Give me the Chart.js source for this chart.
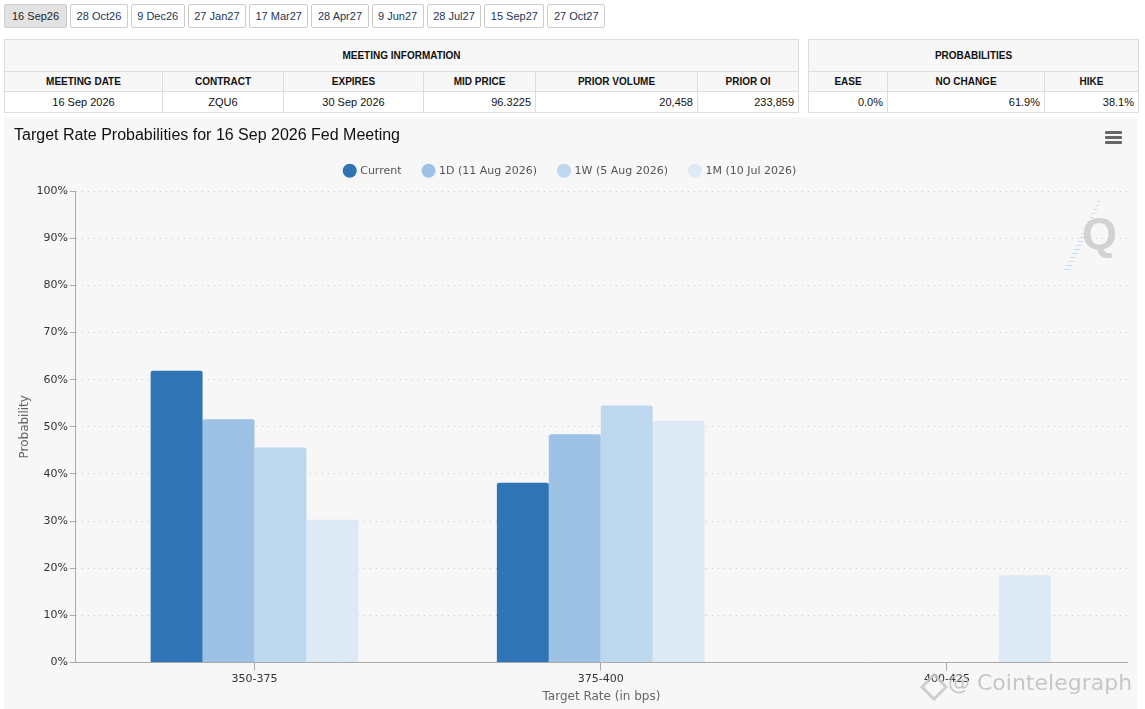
<!DOCTYPE html>
<html>
<head>
<meta charset="utf-8">
<script src="https://cdn.jsdelivr.net/npm/chart.js@4/dist/chart.umd.min.js"></script>
<style>
body{margin:0;background:#fff;font-family:"Liberation Sans",Arial,sans-serif;width:1145px;height:709px;overflow:hidden;position:relative}
.tabs{position:absolute;left:4px;top:4px;display:flex}
.tabs span{display:block;height:22px;line-height:22px;padding:0 5.5px;margin-right:3px;border:1px solid #ccc;border-radius:2px;font-size:11px;color:#1d3557;background:#fff}
.tabs span.on{background:#e2e2e2;color:#222;padding:0 7px}
table{position:absolute;top:39px;border-collapse:collapse;table-layout:fixed;font-size:11px;color:#111}
table td{border:1px solid #ddd;height:20px;padding:0 4px;overflow:hidden;white-space:nowrap}
table tr.h td{height:31px;background:#f7f7f7;font-weight:bold;text-align:center;font-size:10px}
table tr.s td{background:#f7f7f7;font-weight:bold;text-align:center;height:19px;font-size:10px}
table td.r{text-align:right}
table td.c{text-align:center}
#panel{position:absolute;left:4px;top:117px;width:1133px;height:592px;background:#f7f7f7}
#menu{position:absolute;left:1105px;top:131px;width:17px}
#menu div{height:3px;background:#666;margin-bottom:2px;border-radius:1px}
#qmark{position:absolute;left:1082px;top:208px;font:bold 45px "Liberation Sans",Arial;color:#d2d2d2}
#qstripe{position:absolute;left:1064px;top:198px;width:38px;height:72px;background:repeating-linear-gradient(0deg,rgba(150,195,235,0.5) 0 1px,transparent 1px 4px);clip-path:polygon(92% 0,100% 0,18% 100%,0 100%)}
#wm{position:absolute;left:948px;top:670px;font:22px "DejaVu Sans",sans-serif;color:rgba(190,190,190,0.85)}
#wmlogo{position:absolute;left:924px;top:677px;width:14px;height:14px;border:3px solid rgba(200,200,200,0.85);transform:rotate(45deg)}
</style>
</head>
<body>
<div class="tabs">
<span class="on">16 Sep26</span><span>28 Oct26</span><span>9 Dec26</span><span>27 Jan27</span><span>17 Mar27</span><span>28 Apr27</span><span>9 Jun27</span><span>28 Jul27</span><span>15 Sep27</span><span>27 Oct27</span>
</div>
<table style="left:4px;width:794px">
<colgroup><col style="width:158px"><col style="width:121px"><col style="width:140px"><col style="width:112px"><col style="width:162px"><col style="width:101px"></colgroup>
<tr class="h"><td colspan="6">MEETING INFORMATION</td></tr>
<tr class="s"><td>MEETING DATE</td><td>CONTRACT</td><td>EXPIRES</td><td>MID PRICE</td><td>PRIOR VOLUME</td><td>PRIOR OI</td></tr>
<tr><td class="c">16 Sep 2026</td><td class="c">ZQU6</td><td class="c">30 Sep 2026</td><td class="r">96.3225</td><td class="r">20,458</td><td class="r">233,859</td></tr>
</table>
<table style="left:808px;width:330px">
<colgroup><col style="width:79px"><col style="width:157px"><col style="width:94px"></colgroup>
<tr class="h"><td colspan="3">PROBABILITIES</td></tr>
<tr class="s"><td>EASE</td><td>NO CHANGE</td><td>HIKE</td></tr>
<tr><td class="r">0.0%</td><td class="r">61.9%</td><td class="r">38.1%</td></tr>
</table>
<div id="panel"><canvas id="chartCanvas" width="1133" height="592"></canvas></div>
<div id="menu"><div></div><div></div><div></div></div>
<div id="qstripe"></div>
<div id="qmark">Q</div>
<div id="wmlogo"></div>
<div id="wm">@ Cointelegraph</div>
<script>
//data
const rates=['350-375','375-400','400-425'];
const current=[61.9,38.1,0];
const oneDay=[51.6,48.4,0];
const oneWeek=[45.6,54.5,0];
const oneMonth=[30.3,51.3,18.5];
const yTicks=[0,10,20,30,40,50,60,70,80,90,100];

const tickFont={family:'"DejaVu Sans",sans-serif',size:11};

//bars sit on index positions of the rates list
function points(values){
    return values.map((v,i)=>({x:i,y:v}));
}

const data={
    datasets:[
        {label:'Current',data:points(current),backgroundColor:'#2f74b5'},
        {label:'1D (11 Aug 2026)',data:points(oneDay),backgroundColor:'#9dc2e6'},
        {label:'1W (5 Aug 2026)',data:points(oneWeek),backgroundColor:'#bdd7ee'},
        {label:'1M (10 Jul 2026)',data:points(oneMonth),backgroundColor:'#ddeaf6'}
    ]
};

//extra space under the legend
const legendGap={
    id:'legendGap',
    beforeInit(chart){
        const fit=chart.legend.fit;
        chart.legend.fit=function(){
            fit.bind(chart.legend)();
            this.height+=5;
        };
    }
};

const config={
    type:'bar',
    data:data,
    options:{
        responsive:false,
        animation:false,
        layout:{padding:{left:10,right:10,bottom:1,top:4}},
        datasets:{bar:{barPercentage:1,categoryPercentage:0.6,borderWidth:0,borderRadius:{topLeft:2,topRight:2}}},
        plugins:{
            title:{
                display:true,
                text:'Target Rate Probabilities for 16 Sep 2026 Fed Meeting',
                align:'start',
                color:'#111',
                font:{family:'"Liberation Sans",Arial,sans-serif',size:16,weight:'normal'},
                padding:{top:5,bottom:-2}
            },
            legend:{
                labels:{
                    usePointStyle:true,
                    pointStyle:'circle',
                    boxWidth:10,
                    boxHeight:10,
                    padding:22,
                    color:'#555',
                    font:tickFont
                }
            },
            tooltip:{enabled:false}
        },
        scales:{
            x:{
                type:'linear',
                offset:false,
                min:-0.516,max:2.52,
                afterBuildTicks:(axis)=>{axis.ticks=rates.map((r,i)=>({value:i}));},
                grid:{drawOnChartArea:false,offset:false,color:'#aaa',tickLength:8},
                border:{color:'#aaa'},
                ticks:{color:'#333',font:tickFont,padding:2,callback:v=>rates[v]},
                title:{display:true,text:'Target Rate (in bps)',color:'#666',font:{family:'"DejaVu Sans",sans-serif',size:12},padding:{top:2}}
            },
            y:{
                min:0,max:100,
                afterBuildTicks:(axis)=>{axis.ticks=yTicks.map(v=>({value:v}));},
                grid:{color:'#c8c8c8',tickLength:6,drawTicks:true,tickColor:'#aaa'},
                border:{color:'#aaa',dash:[1,5]},
                ticks:{color:'#333',font:tickFont,padding:2,callback:v=>v+'%'},
                title:{display:true,text:'Probability',color:'#666',font:{family:'"DejaVu Sans",sans-serif',size:12},padding:{bottom:2}}
            }
        }
    },
    plugins:[legendGap]
};

var myChart=new Chart(document.getElementById('chartCanvas'),config);
</script>
</body>
</html>
